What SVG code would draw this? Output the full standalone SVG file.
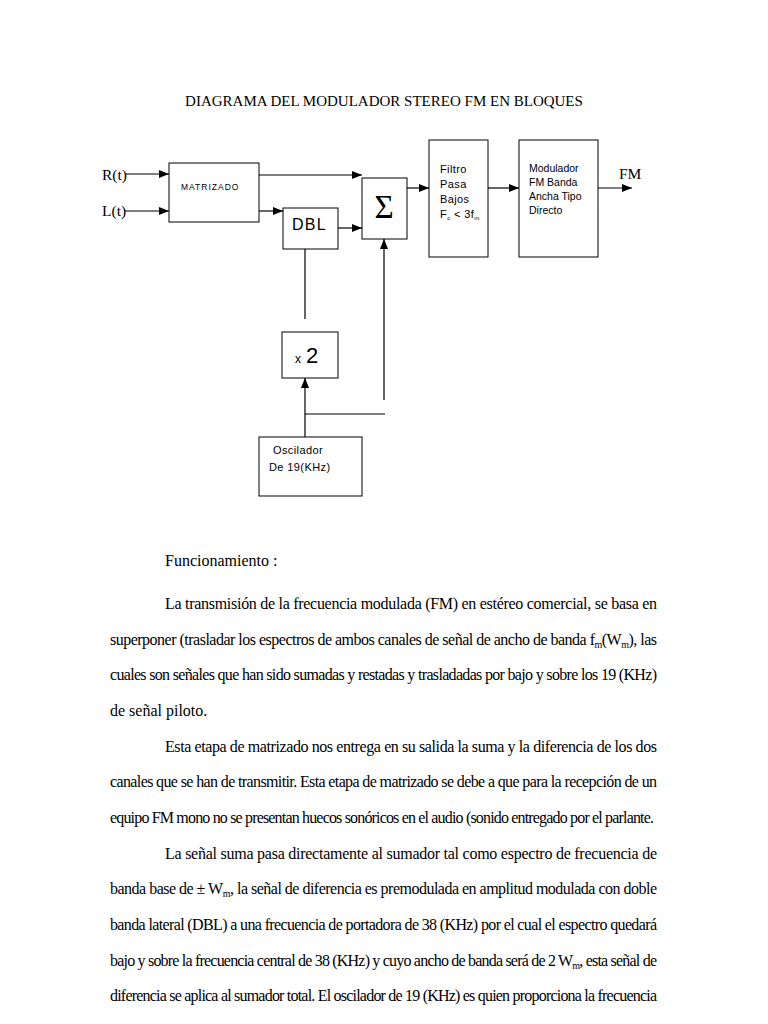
<svg xmlns="http://www.w3.org/2000/svg" width="768" height="1024" viewBox="0 0 768 1024">
<defs>
<marker id="arr" markerWidth="10" markerHeight="8" refX="10" refY="4" orient="auto" markerUnits="userSpaceOnUse">
<path d="M0,0 L10,4 L0,8 Z" fill="#000"/>
</marker>
<style>
.box{fill:#fff;stroke:#000;stroke-width:1}
.ln{fill:none;stroke:#000;stroke-width:1.2}
.serif{font-family:"Liberation Serif","Times New Roman",serif;fill:#000}
.sans{font-family:"Liberation Sans",Arial,sans-serif;fill:#000}
.body{font-family:"Liberation Serif","Times New Roman",serif;font-size:16px;fill:#000}
.sub{font-size:10px}
</style>
</defs>
<rect width="768" height="1024" fill="#fff"/>
<text class="serif" x="384" y="106" font-size="15" text-anchor="middle">DIAGRAMA DEL MODULADOR STEREO FM EN BLOQUES</text>

<g id="inputs">
<text class="serif" x="102" y="180" font-size="15.5">R(t)</text>
<text class="serif" x="102" y="216" font-size="15.5">L(t)</text>
</g>
<g id="matrizado">
<rect class="box" x="169" y="163" width="90" height="59"/>
<text class="sans" x="181" y="190" font-size="8.5" letter-spacing="1">MATRIZADO</text>
</g>
<g id="dbl">
<rect class="box" x="283" y="208" width="55" height="41"/>
<text class="sans" x="292" y="230" font-size="16" letter-spacing="1.2">DBL</text>
</g>
<g id="sumador">
<rect class="box" x="362" y="178" width="45" height="61"/>
<text class="serif" x="384" y="218" font-size="33" text-anchor="middle">Σ</text>
</g>
<g id="filtro">
<rect class="box" x="429" y="140" width="59" height="117"/>
<text class="sans" font-size="11" letter-spacing="0.4">
<tspan x="440" y="173">Filtro</tspan>
<tspan x="440" y="188">Pasa</tspan>
<tspan x="440" y="203">Bajos</tspan>
<tspan x="440" y="218">F<tspan font-size="6" dy="2">c</tspan><tspan dy="-2"> &lt; 3f</tspan><tspan font-size="6" dy="2">m</tspan></tspan>
</text>
</g>
<g id="modulador">
<rect class="box" x="519" y="140" width="79" height="117"/>
<text class="sans" font-size="10.5">
<tspan x="529" y="172">Modulador</tspan>
<tspan x="529" y="186">FM Banda</tspan>
<tspan x="529" y="200">Ancha Tipo</tspan>
<tspan x="529" y="214">Directo</tspan>
</text>
</g>
<g id="salida">
<text class="serif" x="619" y="179" font-size="15.5">FM</text>
</g>
<g id="x2">
<rect class="box" x="282" y="332" width="56" height="46"/>
<text class="sans" x="295" y="363" font-size="12">x</text>
<text class="sans" x="306" y="363" font-size="22">2</text>
</g>
<g id="oscilador">
<rect class="box" x="259" y="437" width="103" height="59"/>
<text class="sans" font-size="11" letter-spacing="0.4">
<tspan x="273" y="454">Oscilador</tspan>
<tspan x="269" y="471">De 19(KHz)</tspan>
</text>
</g>

<g id="connectors">
<line class="ln" x1="125" y1="174" x2="169" y2="174" marker-end="url(#arr)"/>
<line class="ln" x1="125" y1="211" x2="169" y2="211" marker-end="url(#arr)"/>
<line class="ln" x1="259" y1="175" x2="362" y2="175" marker-end="url(#arr)"/>
<line class="ln" x1="259" y1="211" x2="283" y2="211" marker-end="url(#arr)"/>
<line class="ln" x1="338" y1="228" x2="362" y2="228" marker-end="url(#arr)"/>
<line class="ln" x1="407" y1="188" x2="429" y2="188" marker-end="url(#arr)"/>
<line class="ln" x1="488" y1="188" x2="519" y2="188" marker-end="url(#arr)"/>
<line class="ln" x1="598" y1="188" x2="632" y2="188" marker-end="url(#arr)"/>
<line class="ln" x1="305" y1="249" x2="305" y2="319"/>
<line class="ln" x1="305" y1="437" x2="305" y2="378" marker-end="url(#arr)"/>
<line class="ln" x1="305" y1="414" x2="385" y2="414"/>
<line class="ln" x1="384" y1="400" x2="384" y2="239" marker-end="url(#arr)"/>
</g>

<g id="texto">
<text class="body" x="165" y="566">Funcionamiento :</text>
<text class="body" x="165" y="609" textLength="492" lengthAdjust="spacing">La transmisión de la frecuencia modulada (FM) en estéreo comercial, se basa en</text>
<text class="body" x="110" y="645" textLength="547" lengthAdjust="spacing">superponer (trasladar los espectros de ambos canales de señal de ancho de banda f<tspan class="sub" dy="3">m</tspan><tspan dy="-3">(W</tspan><tspan class="sub" dy="3">m</tspan><tspan dy="-3">), las</tspan></text>
<text class="body" x="110" y="680" textLength="547" lengthAdjust="spacing">cuales son señales que han sido sumadas y restadas y trasladadas por bajo y sobre los 19 (KHz)</text>
<text class="body" x="110" y="716">de señal piloto.</text>
<text class="body" x="165" y="752" textLength="492" lengthAdjust="spacing">Esta etapa de matrizado nos entrega en su salida la suma y la diferencia de los dos</text>
<text class="body" x="110" y="787" textLength="547" lengthAdjust="spacing">canales que se han de transmitir. Esta etapa de matrizado se debe a que para la recepción de un</text>
<text class="body" x="110" y="823" textLength="544" lengthAdjust="spacing">equipo FM mono no se presentan huecos sonóricos en el audio (sonido entregado por el parlante.</text>
<text class="body" x="165" y="859" textLength="492" lengthAdjust="spacing">La señal suma pasa directamente al sumador tal como espectro de frecuencia de</text>
<text class="body" x="110" y="894" textLength="547" lengthAdjust="spacing">banda base de ± W<tspan class="sub" dy="3">m</tspan><tspan dy="-3">, la señal de diferencia es premodulada en amplitud modulada con doble</tspan></text>
<text class="body" x="110" y="930" textLength="547" lengthAdjust="spacing">banda lateral (DBL) a una frecuencia de portadora de 38 (KHz) por el cual el espectro quedará</text>
<text class="body" x="110" y="966" textLength="547" lengthAdjust="spacing">bajo y sobre la frecuencia central de 38 (KHz) y cuyo ancho de banda será de 2 W<tspan class="sub" dy="3">m</tspan><tspan dy="-3">, esta señal de</tspan></text>
<text class="body" x="110" y="1001" textLength="547" lengthAdjust="spacing">diferencia se aplica al sumador total. El oscilador de 19 (KHz) es quien proporciona la frecuencia</text>
</g>
</svg>
